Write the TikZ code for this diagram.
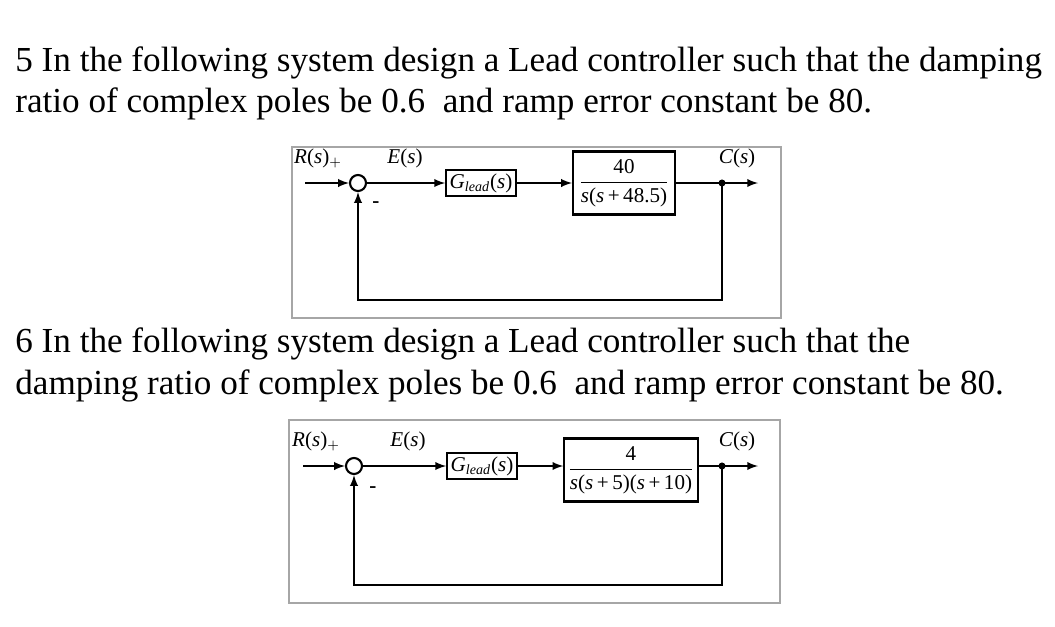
\documentclass[tikz,border=0pt]{standalone}
\usepackage{amsmath}
\usepackage{fontspec}
\setmainfont{Liberation Serif}
\usetikzlibrary{arrows,positioning}
\newcommand{\iv}[1]{\textit{#1}}
\begin{document}
\begin{tikzpicture}[x=0.02cm,y=-0.02cm]
        \tikzstyle{block}=[draw=black, line width=1.2pt, inner sep=2pt, font=\fontsize{12}{14}\selectfont]
        \tikzstyle{sum}=[circle, draw=black, line width=1.2pt, minimum size=3.2mm, inner sep=0pt]
        \tikzstyle{connect}=[-latex, line width=1.1pt]
        \tikzstyle{lbl}=[font=\fontsize{12}{14}\selectfont, inner sep=0pt]
        \tikzstyle{para}=[anchor=base west, inner sep=0pt, font=\fontsize{20}{24}\selectfont]
        \useasboundingbox (0,0) rectangle (1055,626);
        % problem texts
        \node[para] (p5a) at (15,71) {5 In the following system design a Lead controller such that the damping};
        \node[para] (p5b) at (15,112) {ratio of complex poles be 0.6 \ and ramp error constant be 80.};
        \node[para] (p6a) at (15,352) {6 In the following system design a Lead controller such that the};
        \node[para] (p6b) at (15,394) {damping ratio of complex poles be 0.6 \ and ramp error constant be 80.};
        % first loop
        \draw[gray!70, line width=0.8pt] (292,147) rectangle (781,318);
        \coordinate (in1) at (305,183);
        \node[sum] (s1) at (358,183) {};
        \node[block] (g1) at (481,183) {\iv{G}$_{\iv{lead}}$(\iv{s})};
        \node[block, minimum width=2.04cm, minimum height=1.26cm] (p1) at (624,183) {$\dfrac{\text{40}}{\text{\iv{s}(\iv{s}\,+\,48.5)}}$};
        \coordinate (o1) at (722,183);
        \coordinate (e1) at (758,183);
        \coordinate (b1) at (722,300);
        \draw[connect] (in1) -- (s1);
        \draw[connect] (s1) -- (g1);
        \draw[connect] (g1) -- (p1);
        \draw[connect] (p1) -- (e1);
        \fill (o1) circle (2pt);
        \draw[connect] (o1) -- (b1) -| (s1);
        \node[lbl] (r1) at (318,158) {\iv{R}(\iv{s})$_{+}$};
        \node[lbl] (er1) at (405,158) {\iv{E}(\iv{s})};
        \node[lbl] (c1) at (737,158) {\iv{C}(\iv{s})};
        \node[lbl] (m1) at (376,205) {\textbf{-}};
        % second loop
        \draw[gray!70, line width=0.8pt] (289,420) rectangle (780,603);
        \coordinate (in2) at (303,466);
        \node[sum] (s2) at (354,466) {};
        \node[block] (g2) at (482,466) {\iv{G}$_{\iv{lead}}$(\iv{s})};
        \node[block, minimum width=2.64cm, minimum height=1.26cm] (p2) at (631,470) {$\dfrac{\text{4}}{\text{\iv{s}(\iv{s}\,+\,5)(\iv{s}\,+\,10)}}$};
        \coordinate (o2) at (722,466);
        \coordinate (e2) at (758,466);
        \coordinate (b2) at (722,585);
        \draw[connect] (in2) -- (s2);
        \draw[connect] (s2) -- (g2);
        \draw[connect] (g2) -- (g2 -| p2.west);
        \draw[connect] (p2.east |- o2) -- (e2);
        \fill (o2) circle (2pt);
        \draw[connect] (o2) -- (b2) -| (s2);
        \node[lbl] (r2) at (316,441) {\iv{R}(\iv{s})$_{+}$};
        \node[lbl] (er2) at (408,441) {\iv{E}(\iv{s})};
        \node[lbl] (c2) at (737,441) {\iv{C}(\iv{s})};
        \node[lbl] (m2) at (373,490) {\textbf{-}};
\end{tikzpicture}
\end{document}
